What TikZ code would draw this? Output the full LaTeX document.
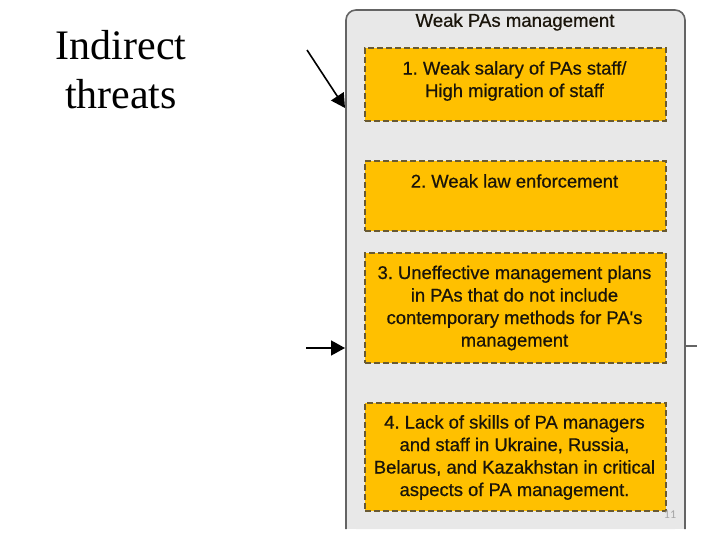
\documentclass[tikz,border=0pt]{standalone}
\usepackage{fontspec}
\setmainfont{Liberation Sans}
\newfontfamily\boxfont[FakeBold=0.6]{Liberation Sans}
\newfontfamily\titleserif{Liberation Serif}
\newfontfamily\pagefont{Carlito}
\usetikzlibrary{arrows.meta}
\definecolor{panelgray}{RGB}{232,232,232}
\definecolor{paneledge}{RGB}{100,100,100}
\definecolor{threatfill}{RGB}{255,192,0}
\definecolor{threatedge}{RGB}{105,90,50}
\definecolor{textdark}{RGB}{25,20,10}
\tikzset{
  threatbox/.style={draw=threatedge, fill=threatfill, dashed, dash pattern=on 6pt off 3pt, line width=1.8pt, minimum width=301pt, anchor=north west, inner sep=0pt},
  threattext/.style={font=\boxfont\fontsize{18.4}{22.5}\selectfont, text=textdark, align=center, inner sep=0pt},
  connector/.style={line width=1.6pt, -{Triangle[length=14pt,width=15pt]}},
}
\begin{document}
\frenchspacing
\begin{tikzpicture}[x=1pt,y=-1pt]
\useasboundingbox (0,0) rectangle (720,540);
% left title
\node[font=\titleserif\fontsize{42}{49}\selectfont, align=center, inner sep=0pt] (title) at (121,70) {Indirect\\threats};
% outer panel
\fill[panelgray, rounded corners=10pt] (346,529) -- (346,10) -- (685,10) -- (685,529) -- cycle;
\fill[panelgray] (346,500) rectangle (685,529);
\draw[paneledge, line width=1.6pt, rounded corners=10pt] (346,529) -- (346,10) -- (685,10) -- (685,529);
\node[font=\boxfont\fontsize{18.6}{20}\selectfont, text=textdark, inner sep=0pt] (head) at (515,22) {Weak PAs management};
\coordinate (panelwest1) at (345,108);
\coordinate (panelwest2) at (345,348);
\coordinate (paneleast) at (686,346);
% boxes
\node[threatbox, minimum height=73pt] (b1) at (364,47) {};
\node[threattext] (t1) at (514.5,81) {1. Weak salary of PAs staff/\\High migration of staff};
\node[threatbox, minimum height=70pt] (b2) at (364,160) {};
\node[threattext] (t2) at (514.5,181) {2. Weak law enforcement};
\node[threatbox, minimum height=110pt] (b3) at (364,252) {};
\node[threattext] (t3) at (514.5,308) {3. Uneffective management plans\\in PAs that do not include\\contemporary methods for PA's\\management};
\node[threatbox, minimum height=108pt] (b4) at (364,402) {};
\node[threattext] (t4) at (514.5,457.5) {4. Lack of skills of PA managers\\and staff in Ukraine, Russia,\\Belarus, and Kazakhstan in critical\\aspects of PA management.};
% connectors
\coordinate (src1) at (307,50);
\coordinate (src2) at (306,348);
\coordinate (sinkE) at (697,346);
\draw[connector] (src1) -- (panelwest1);
\draw[connector] (src2) -- (panelwest2);
\draw[paneledge, line width=1.6pt] (paneleast) -- (sinkE);
% page number
\node[font=\pagefont\fontsize{12}{13}\selectfont, text=gray!70, inner sep=0pt] (pnum) at (670,515) {11};
\end{tikzpicture}
\end{document}
